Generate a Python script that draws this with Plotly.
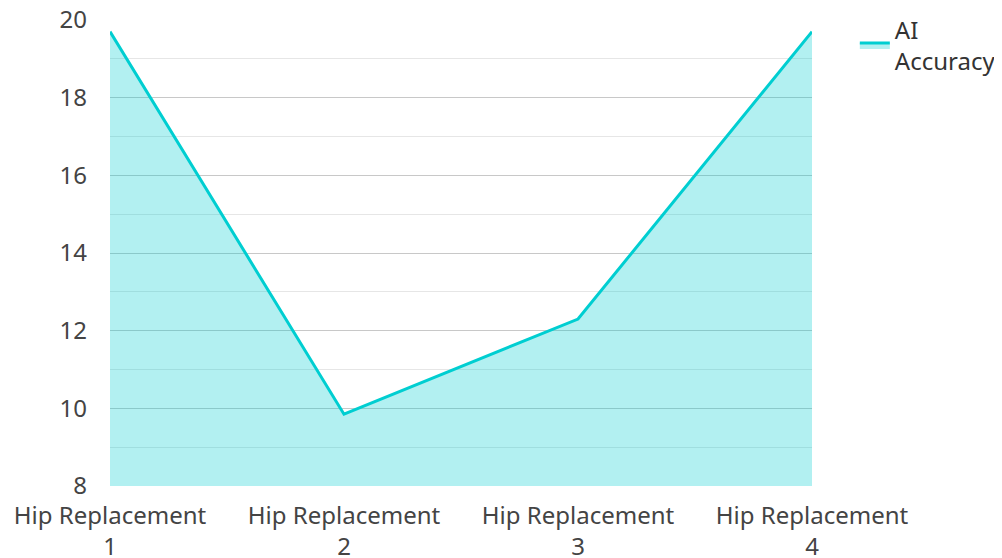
import plotly.graph_objects as go

categories = ["Hip Replacement 1", "Hip Replacement 2", "Hip Replacement 3", "Hip Replacement 4"]
tick_labels = ["Hip Replacement<br>1", "Hip Replacement<br>2", "Hip Replacement<br>3", "Hip Replacement<br>4"]
ai_accuracy = [19.7, 9.85, 12.3, 19.7]
series_name = "AI<br>Accuracy"

fig = go.Figure()
fig.add_trace(go.Scatter(
    x=categories, y=ai_accuracy, name=series_name, mode="lines",
    line=dict(color="#00CED1", width=3),
    fill="tozeroy", fillcolor="rgba(0,206,209,0.3)",
))

font_family = "Noto Sans, Open Sans, sans-serif"
fig.update_layout(
    width=994, height=550,
    margin=dict(l=102, r=190, t=12, b=72, autoexpand=False),
    paper_bgcolor="white", plot_bgcolor="white",
    font=dict(family=font_family, size=24, color="#444444"),
    showlegend=True,
    legend=dict(x=1.061, y=1.027, xanchor="left", yanchor="top",
                font=dict(size=24, color="#333333"), bgcolor="rgba(0,0,0,0)"),
    xaxis=dict(type="category", range=[0, 3], tickmode="array",
               tickvals=categories, ticktext=tick_labels, automargin=False,
               showgrid=False, zeroline=False, showline=False,
               ticks="", ticklabelstandoff=13, ticklabeloverflow="allow"),
    yaxis=dict(range=[8, 20], dtick=2, tick0=8, showgrid=True, gridcolor="#c8c8c8",
               gridwidth=1, zeroline=False, showline=False, ticks="", automargin=False,
               ticklabelstandoff=22, ticklabeloverflow="allow",
               minor=dict(dtick=1, showgrid=True, gridcolor="#e6e6e6", gridwidth=1)),
)

fig.write_html("out.html")
